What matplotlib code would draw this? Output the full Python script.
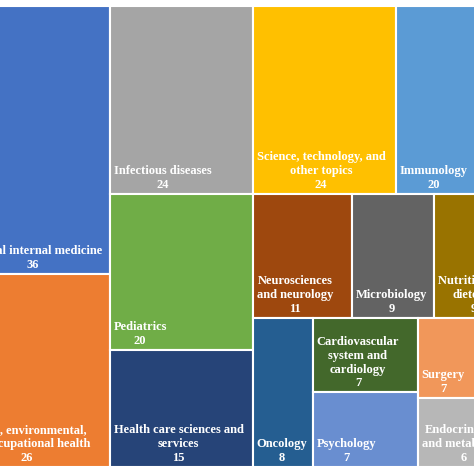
import matplotlib
matplotlib.use("Agg")
import matplotlib.pyplot as plt
from matplotlib.patches import Rectangle

# research areas and record counts (treemap, cropped view)
labels = [
    "General internal medicine",
    "Public, environmental,\nand occupational health",
    "Infectious diseases",
    "Pediatrics",
    "Health care sciences and\nservices",
    "Science, technology, and\nother topics",
    "Immunology",
    "Neurosciences\nand neurology",
    "Microbiology",
    "Nutrition and\ndietetics",
    "Oncology",
    "Cardiovascular\nsystem and\ncardiology",
    "Psychology",
    "Surgery",
    "Endocrinology\nand metabolism",
]
counts = [36, 26, 24, 20, 15, 24, 20, 11, 9, 9, 8, 7, 7, 7, 6]
colors = [
    "#4472C4", "#ED7D31", "#A5A5A5", "#70AD47", "#264478",
    "#FFC000", "#5B9BD5", "#9E480E", "#636363", "#997300",
    "#255E91", "#43682B", "#698ED0", "#F1975A", "#B7B7B7",
]

# nesting of the tiles: "h" splits side by side, "v" stacks top to bottom
tree = ("h", [
    ("v", [0, 1]),
    ("v", [2, 3, 4]),
    ("v", [
        ("h", [5, 6]),
        ("h", [7, 8, 9]),
        ("h", [10, ("v", [11, 12]), ("v", [13, 14])]),
    ]),
])


def total(node):
    if isinstance(node, int):
        return counts[node]
    return sum(total(c) for c in node[1])


def layout(node, x, y, w, h, out):
    if isinstance(node, int):
        out.append((node, x, y, w, h))
        return
    direction, children = node
    s = total(node)
    pos = x if direction == "h" else y
    for c in children:
        frac = total(c) / s
        if direction == "h":
            layout(c, pos, y, w * frac, h, out)
            pos += w * frac
        else:
            layout(c, x, pos, w, h * frac, out)
            pos += h * frac


W = H = 474
fig = plt.figure(figsize=(W / 100, H / 100), dpi=100)
ax = fig.add_axes([0, 0, 1, 1])
ax.set_xlim(0, W)
ax.set_ylim(H, 0)
ax.axis("off")

# the full chart is wider than the visible window
tiles = []
layout(tree, -41, 6, 556, 461, tiles)

for i, x, y, w, h in tiles:
    ax.add_patch(Rectangle((x, y), w, h, facecolor=colors[i],
                           edgecolor="white", linewidth=1.5))
    ax.annotate(labels[i] + "\n" + str(counts[i]), xy=(x, y + h),
                xytext=(4, 3), textcoords="offset pixels",
                ha="left", va="bottom", multialignment="center",
                color="white", fontweight="bold", fontsize=9,
                family="Liberation Serif", linespacing=1.2,
                annotation_clip=False)

fig.savefig("out.png", dpi=100)
